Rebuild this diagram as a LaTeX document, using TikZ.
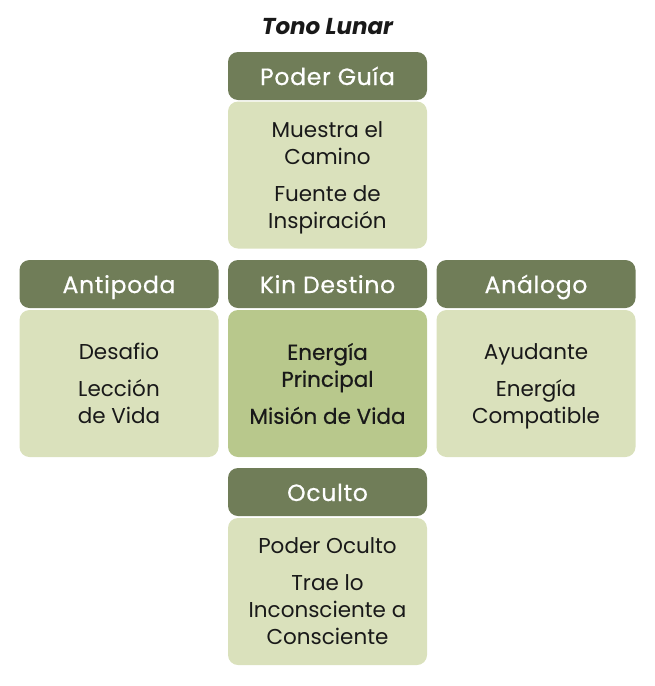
\documentclass[tikz,border=0pt]{standalone}
\usepackage{fontspec}
\setmainfont{Poppins}
\definecolor{hdr}{RGB}{112,125,88}
\definecolor{lite}{RGB}{218,225,188}
\definecolor{mid}{RGB}{184,200,140}
\definecolor{txt}{RGB}{25,25,25}
\begin{document}
\begin{tikzpicture}[x=1pt,y=-1pt,
  hdrbox/.style={fill=hdr,rounded corners=10pt,minimum width=199pt,minimum height=48pt,inner sep=0pt,text=white,text height=18pt,text depth=0pt,font=\fontsize{23.5}{26}\selectfont\addfontfeatures{LetterSpace=3,FakeBold=0.6}},
  bodybox/.style={fill=lite,rounded corners=10pt,minimum width=199pt,minimum height=147pt,inner sep=0pt,text=txt,align=center,font=\fontsize{21.5}{27}\selectfont},
  midbox/.style={bodybox,fill=mid,font=\fontsize{21.5}{27}\selectfont\addfontfeatures{FakeBold=0.6}},
  titlebox/.style={font=\fontsize{23}{26}\selectfont\bfseries\itshape,text=txt}]
\path[use as bounding box] (0,0) rectangle (655,686);
\node[titlebox] (title) at (327.5,27) {Tono Lunar};
% top
\node[hdrbox] (hguia) at (327.5,76) {Poder Guía};
\node[bodybox] (bguia) at (327.5,175) {};
\node[align=center,inner sep=0pt,font=\fontsize{21.5}{27}\selectfont,text=txt] at ([yshift=-3pt]bguia.center) {Muestra el\\Camino\\[10pt]Fuente de\\Inspiración};
% middle
\node[hdrbox] (hanti) at (119,284) {Antipoda};
\node[hdrbox] (hkin) at (327.5,284) {Kin Destino};
\node[hdrbox] (hana) at (536,284) {Análogo};
\node[bodybox] (banti) at (119,383.5) {Desafio\\[10pt]Lección\\de Vida};
\node[midbox] (bkin) at (327.5,383.5) {Energía\\Principal\\[10pt]Misión de Vida};
\node[bodybox] (bana) at (536,383.5) {};
\node[align=center,inner sep=0pt,font=\fontsize{21.5}{27}\selectfont,text=txt] at ([yshift=-3pt]bana.center) {Ayudante\\[10pt]Energía\\Compatible};
% bottom
\node[hdrbox] (hocu) at (327.5,492) {Oculto};
\node[bodybox] (bocu) at (327.5,591.5) {Poder Oculto\\[10pt]Trae lo\\Inconsciente a\\Consciente};
\end{tikzpicture}
\end{document}
